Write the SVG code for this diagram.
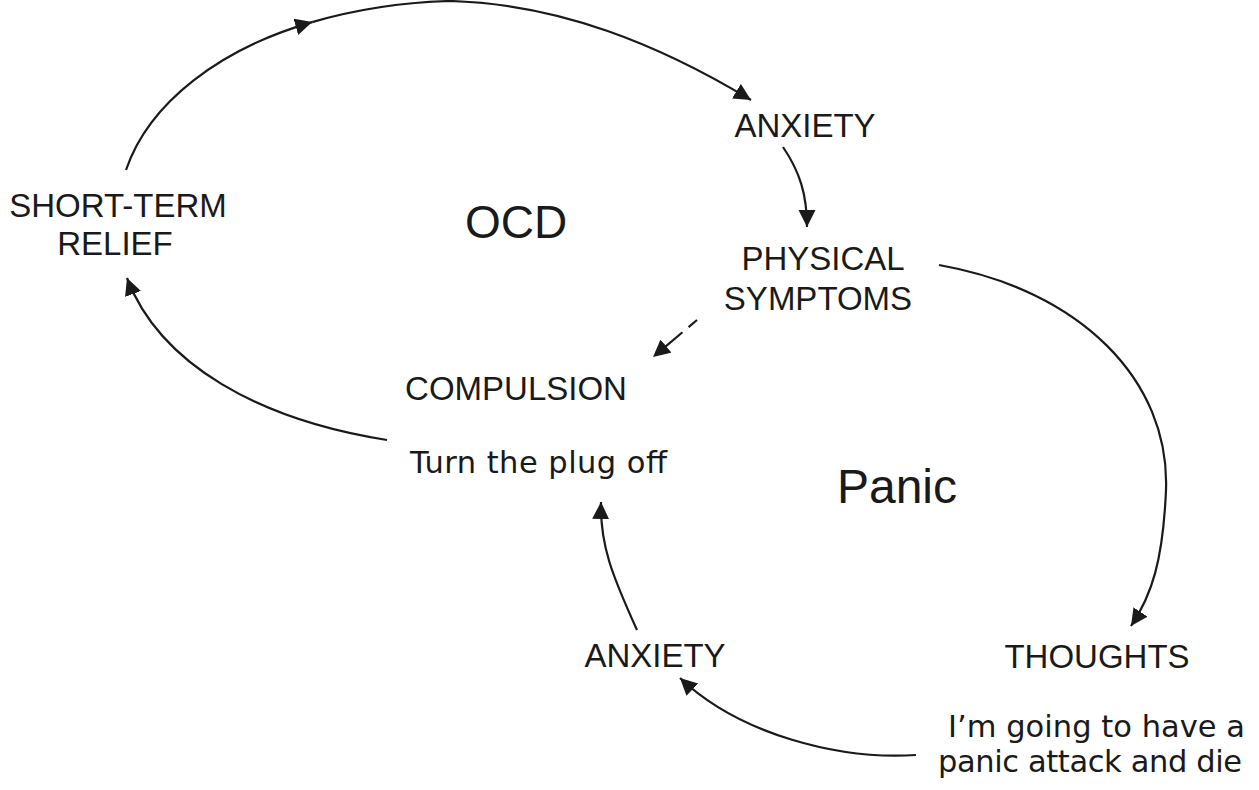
<svg xmlns="http://www.w3.org/2000/svg" width="1259" height="790" viewBox="0 0 1259 790">
  <style>
    .lbl { font-family: "Liberation Sans", Arial, sans-serif; font-size: 33px; fill: #1a1a1a; text-anchor: middle; }
    .big { font-family: "Liberation Sans", Arial, sans-serif; fill: #1a1a1a; text-anchor: middle; }
    .txt { font-family: "DejaVu Sans", "Liberation Sans", sans-serif; font-size: 30.5px; fill: #1a1a1a; }
    .conn { fill: none; stroke: #1a1a1a; stroke-width: 2.2; }
    .dash { stroke-dasharray: 11 8 30; }
  </style>
  <defs>
    <marker id="arr" markerUnits="userSpaceOnUse" markerWidth="20" markerHeight="20" refX="17" refY="8.5" orient="auto">
      <path d="M0,0 L17,8.5 L0,17 z" fill="#1a1a1a"/>
    </marker>
  </defs>
  <rect width="1259" height="790" fill="#ffffff"/>

  <g id="connectors">
    <path class="conn" d="M126,170 C149.1,102 221.2,48.2 312.2,22.1" marker-end="url(#arr)"/>
    <path class="conn" d="M312.2,22.1 C355,9.8 402,2.28 450,1 C560,4 660,45 751,100" marker-end="url(#arr)"/>
    <path class="conn" d="M783,147 C800,172 807,195 807,227" marker-end="url(#arr)"/>
    <path class="conn dash" d="M697,320 L653,357" marker-end="url(#arr)"/>
    <path class="conn" d="M939,265 C1080,290 1170,380 1166,490 C1163,560 1152,595 1131,626" marker-end="url(#arr)"/>
    <path class="conn" d="M916,755 C840,760 740,735 680,678" marker-end="url(#arr)"/>
    <path class="conn" d="M637,630 C612,575 600,545 601,502" marker-end="url(#arr)"/>
    <path class="conn" d="M387,440 C260,420 160,365 127,278" marker-end="url(#arr)"/>
  </g>

  <g id="relief">
    <text class="lbl" x="118" y="217">SHORT-TERM</text>
    <text class="lbl" x="115" y="255">RELIEF</text>
  </g>
  <g id="ocd">
    <text class="big" x="516" y="238" font-size="46">OCD</text>
  </g>
  <g id="anxiety-top">
    <text class="lbl" x="805" y="137">ANXIETY</text>
  </g>
  <g id="physical">
    <text class="lbl" x="823" y="270">PHYSICAL</text>
    <text class="lbl" x="818" y="310">SYMPTOMS</text>
  </g>
  <g id="compulsion">
    <text class="lbl" x="516" y="400">COMPULSION</text>
    <text class="txt" x="410" y="473" textLength="257" lengthAdjust="spacing">Turn the plug off</text>
  </g>
  <g id="panic">
    <text class="big" x="897" y="503" font-size="48">Panic</text>
  </g>
  <g id="anxiety-bottom">
    <text class="lbl" x="655" y="667">ANXIETY</text>
  </g>
  <g id="thoughts">
    <text class="lbl" x="1097" y="668">THOUGHTS</text>
    <text class="txt" x="948" y="737" textLength="297" lengthAdjust="spacing">I’m going to have a</text>
    <text class="txt" x="938" y="772" textLength="304" lengthAdjust="spacing">panic attack and die</text>
  </g>
</svg>
